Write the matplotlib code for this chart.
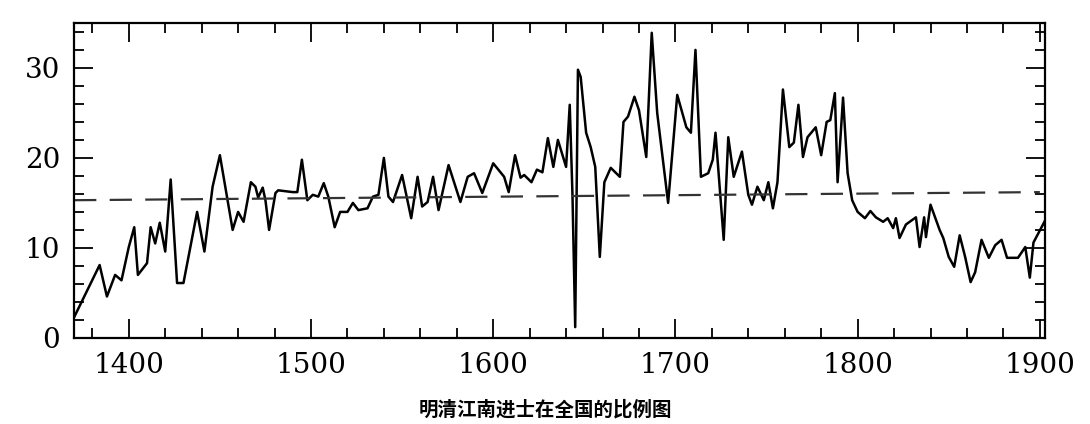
import matplotlib.pyplot as plt
from matplotlib.ticker import MultipleLocator

plt.rcParams['font.family'] = ['DejaVu Serif', 'Noto Sans CJK SC']

years = [1370, 1384, 1388, 1392.5, 1396, 1400, 1403, 1405, 1410, 1412, 1414.5, 1417, 1420,
         1423, 1426.5, 1430, 1437.5, 1441.5, 1446, 1450, 1457, 1460, 1463, 1467, 1469.5,
         1471, 1473.5, 1475, 1477, 1480.5, 1482, 1490, 1492.5, 1495, 1498, 1501, 1504,
         1507, 1509.5, 1513, 1516, 1520, 1523, 1526, 1531, 1534, 1537, 1540, 1542.5,
         1545, 1550, 1555, 1558.5, 1561, 1564, 1567, 1570, 1575.5, 1582, 1586, 1589.5,
         1594, 1600, 1606, 1608.5, 1612, 1615, 1617, 1621, 1624, 1627, 1630, 1633,
         1635.5, 1640, 1642, 1643.5, 1645, 1646.5, 1648, 1651, 1653.5, 1656, 1658.5,
         1661, 1664.5, 1669.5, 1671.5, 1674, 1677.5, 1680, 1684, 1687, 1690, 1696,
         1701, 1706, 1708.5, 1711, 1714, 1718, 1720.5, 1722, 1726.5, 1729, 1732,
         1736.5, 1740, 1742, 1745, 1748.5, 1751, 1753.5, 1756, 1759, 1762.5, 1765,
         1767.5, 1770, 1772.5, 1777, 1780, 1783, 1785, 1787.5, 1789, 1792, 1794.5,
         1797, 1800, 1804, 1807, 1810, 1814, 1816.5, 1819.5, 1821, 1823, 1826.5, 1832,
         1834, 1836.5, 1837.5, 1840, 1845, 1847, 1850, 1853, 1856, 1859, 1862, 1864.5,
         1868, 1872, 1875.5, 1879, 1882, 1888, 1892, 1894.5, 1896.5, 1902.5]
share = [2.3, 8.1, 4.6, 7.0, 6.4, 10.1, 12.3, 7.0, 8.3, 12.3, 10.5, 12.8, 9.6,
         17.6, 6.1, 6.1, 14.0, 9.6, 16.8, 20.3, 12.0, 14.0, 12.9, 17.3, 16.8,
         15.6, 16.7, 15.3, 12.0, 16.1, 16.4, 16.2, 16.2, 19.8, 15.3, 15.9, 15.7,
         17.2, 15.7, 12.3, 14.0, 14.0, 15.0, 14.2, 14.4, 15.7, 15.9, 20.0, 15.7,
         15.1, 18.1, 13.3, 17.9, 14.6, 15.1, 17.9, 14.2, 19.2, 15.1, 17.9, 18.3,
         16.1, 19.4, 17.9, 16.2, 20.3, 17.8, 18.1, 17.3, 18.7, 18.4, 22.2, 19.0,
         22.0, 19.0, 25.9, 15.9, 1.2, 29.8, 29.0, 22.8, 21.2, 19.0, 9.0,
         17.3, 18.9, 17.9, 24.0, 24.6, 26.8, 25.3, 20.1, 33.9, 25.0, 15.0,
         27.0, 23.4, 22.8, 32.0, 17.9, 18.3, 19.8, 22.8, 10.9, 22.3, 17.9,
         20.7, 15.9, 14.8, 16.8, 15.3, 17.3, 14.4, 17.3, 27.6, 21.2, 21.7,
         25.9, 20.1, 22.3, 23.4, 20.3, 24.0, 24.2, 27.2, 17.3, 26.7, 18.3,
         15.3, 14.0, 13.3, 14.1, 13.4, 12.9, 13.3, 12.2, 13.3, 11.1, 12.6, 13.4,
         10.1, 13.4, 11.2, 14.8, 12.0, 11.1, 9.0, 7.9, 11.4, 9.0, 6.2, 7.3,
         10.9, 8.9, 10.3, 10.9, 8.9, 8.9, 10.1, 6.7, 10.6, 12.9]

# overall mean line (slightly rising in the scan)
mean_x = [1370, 1900]
mean_y = [15.3, 16.2]

fig = plt.figure(figsize=(10.9, 4.24), dpi=100)
ax = fig.add_axes([0.068, 0.203, 0.891, 0.743])

ax.plot(years, share, color='black', lw=1.8)
ax.plot(mean_x, mean_y, color='#333333', lw=1.6, dashes=(10, 6))

ax.set_xlim(1370, 1903)
ax.set_ylim(0, 35)
ax.xaxis.set_major_locator(MultipleLocator(100))
ax.xaxis.set_minor_locator(MultipleLocator(20))
ax.yaxis.set_major_locator(MultipleLocator(10))
ax.yaxis.set_minor_locator(MultipleLocator(2))
ax.tick_params(which='both', direction='in', top=True, right=True, width=1.3)
ax.tick_params(which='major', length=14, labelsize=20, pad=10)
ax.tick_params(which='minor', length=7)
for s in ax.spines.values():
    s.set_linewidth(1.6)

fig.text(0.5, 0.035, '明清江南进士在全国的比例图', ha='center', va='center',
         fontsize=14, fontweight='bold', family=['Noto Sans CJK SC'])

fig.savefig('out.png')
